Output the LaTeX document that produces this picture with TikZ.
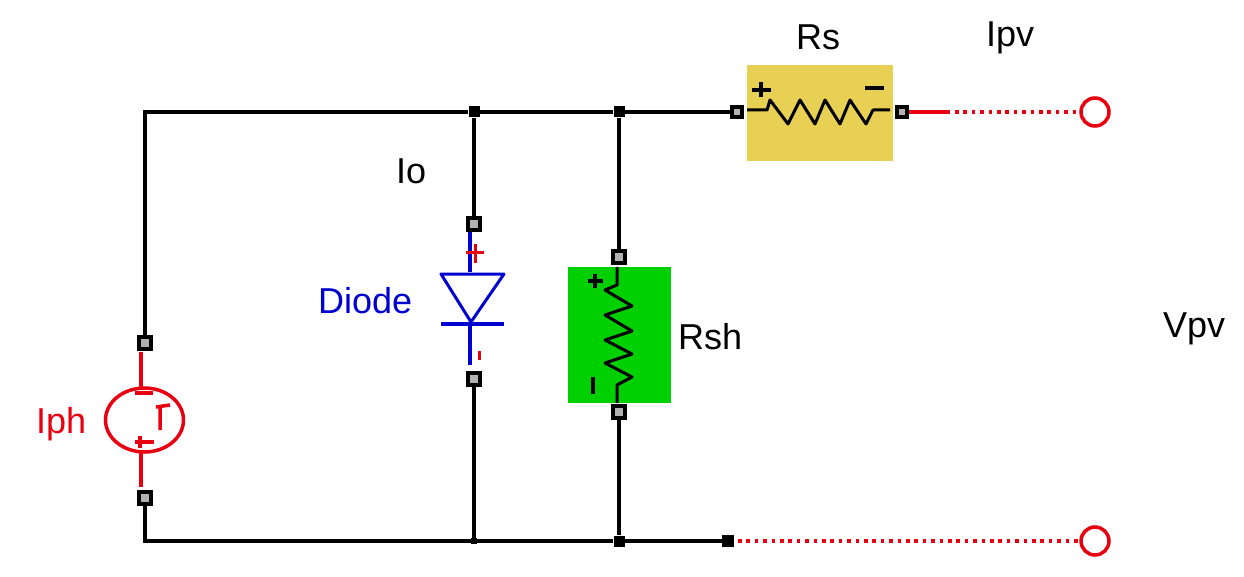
\documentclass[tikz,border=0pt]{standalone}
\usepackage{fontspec}
\setmainfont{Liberation Sans}
\definecolor{rsyellow}{RGB}{232,208,84}
\definecolor{rshgreen}{RGB}{0,208,0}
\definecolor{ckred}{RGB}{232,0,16}
\definecolor{ckblue}{RGB}{0,0,208}
\tikzset{
  term/.style={draw=black,line width=4pt,fill=white!70!black,minimum size=11.5pt,inner sep=0pt},
  dotnode/.style={fill=black,minimum size=11pt,inner sep=0pt},
  endnode/.style={draw=ckred,line width=3.5pt,circle,minimum size=28pt,inner sep=0pt},
  lbl/.style={font=\fontsize{36}{42}\selectfont,inner sep=0pt,anchor=base west},
  wire/.style={line width=3.5pt,black},
  redwire/.style={line width=3.5pt,ckred},
  bluewire/.style={line width=4pt,ckblue},
  dotwire/.style={line width=3.5pt,ckred,dash pattern=on 3.5pt off 4.9pt},
}
\begin{document}
\begin{tikzpicture}[x=1pt,y=-1pt]
  \useasboundingbox (0,0) rectangle (1244,577);
  % boxes
  \fill[rsyellow] (747,65) rectangle (893,161);
  \fill[rshgreen] (568,267) rectangle (671,403);
  % terminals
  \coordinate (cornerTL) at (145,112);
  \coordinate (cornerBL) at (145,541);
  \node[dotnode] (topD) at (474,112) {};
  \node[dotnode] (topR) at (619,112) {};
  \node[dotnode,minimum size=6pt] (botD) at (474,541) {};
  \node[dotnode] (botR) at (619,541) {};
  \node[dotnode,minimum size=12pt] (botEnd) at (728,541) {};
  \node[term] (iphA) at (145,343) {};
  \node[term] (iphB) at (145,498) {};
  \node[term] (diodeA) at (474,224) {};
  \node[term] (diodeB) at (474,379) {};
  \node[term] (rshA) at (619,257) {};
  \node[term] (rshB) at (619,412) {};
  \node[term,minimum size=10pt] (rsA) at (737,112) {};
  \node[term,minimum size=10pt] (rsB) at (902,112) {};
  \node[endnode] (outA) at (1095,112) {};
  \node[endnode] (outB) at (1095,541) {};
  \coordinate (redEnd) at (950,112);
  \coordinate (dotA) at (955,112);
  \coordinate (dotB) at (738,541);
  % wires
  \draw[wire] (iphA) -- (cornerTL) -- (topD) -- (topR) -- (rsA);
  \draw[wire] (iphB) -- (cornerBL) -- (botD) -- (botR) -- (botEnd);
  \draw[wire] (topD) -- (diodeA);
  \draw[wire] (diodeB) -- (botD);
  \draw[wire] (topR) -- (rshA);
  \draw[wire] (rshB) -- (botR);
  \draw[redwire] (rsB) -- (redEnd);
  \draw[dotwire] (dotA) -- (outA);
  \draw[dotwire] (dotB) -- (outB);
  % Rs
  \draw[line width=3pt,line join=round] (747,110) -- (767,110) -- (770,100) -- (788,124) -- (800,100) -- (815,124) -- (825,100) -- (840,124) -- (850,100) -- (866,124) -- (873,110) -- (890,110);
  \draw[line width=3.5pt] (752,90) -- (771,90) (761,82) -- (761,97) (865,88) -- (884,88);
  % Rsh
  \draw[line width=3pt,line join=round] (617,267) -- (617,285) -- (605,290) -- (632,306) -- (605,315) -- (632,331) -- (605,340) -- (632,354) -- (605,363) -- (632,377) -- (617,385) -- (617,403);
  \draw[line width=3.5pt] (588,281) -- (603,281) (595,274) -- (595,288) (593,377) -- (593,394);
  % Diode
  \draw[bluewire] (470,232) -- (470,272) (470,324) -- (470,365);
  \draw[ckblue,line width=3pt,line join=round] (441,274) -- (504,274) -- (471,322) -- cycle;
  \draw[bluewire] (441,324) -- (504,324);
  \draw[ckred,line width=3pt] (466,253) -- (484,253) (475,244) -- (475,263) (479,351) -- (479,360);
  % Iph
  \draw[redwire] (141,352) -- (141,387) (141,453) -- (141,487);
  \draw[ckred,line width=3.5pt] (144.5,420) ellipse [x radius=39,y radius=32];
  \draw[ckred,line width=3.5pt] (135,393) -- (153,393) (135,442) -- (154,442) (140,436) -- (140,448);
  \draw[ckred,line width=3.5pt] (160,430) -- (160,405) (156,407) -- (170,405);
  % labels
  \node[lbl] (lblRs) at (796,50) {Rs};
  \node[lbl] (lblIpv) at (986,47) {Ipv};
  \node[lbl] (lblIo) at (396,184) {Io};
  \node[lbl,text=ckblue] (lblDiode) at (318,313) {Diode};
  \node[lbl] (lblRsh) at (678,349) {Rsh};
  \node[lbl] (lblVpv) at (1163,337) {Vpv};
  \node[lbl,text=ckred] (lblIph) at (36,433) {Iph};
\end{tikzpicture}
\end{document}
